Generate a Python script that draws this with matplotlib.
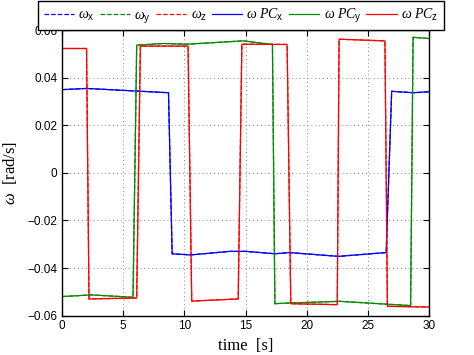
import matplotlib
matplotlib.use("Agg")
import matplotlib.pyplot as plt
import numpy as np

# Datos (tiempo en s, velocidad angular en rad/s)
t_x = [0.0, 2.0, 8.7, 9.0, 10.5, 13.7, 15.0, 17.4, 18.6, 22.6, 26.5, 26.95, 28.7, 30.0]
w_x = [0.035, 0.0355, 0.0337, -0.034, -0.0345, -0.033, -0.033, -0.034, -0.0335,
       -0.0351, -0.0335, 0.0343, 0.0337, 0.0341]

t_y = [0.0, 2.4, 5.8, 6.1, 8.3, 10.2, 14.8, 17.2, 17.4, 18.6, 22.7, 28.5, 28.7, 30.0]
w_y = [-0.052, -0.0513, -0.0523, 0.0537, 0.0544, 0.0541, 0.0555, 0.054, -0.055,
       -0.0547, -0.054, -0.0558, 0.057, 0.0565]

t_z = [0.0, 2.0, 2.2, 6.1, 6.4, 10.3, 10.6, 14.4, 14.7, 18.4, 18.7, 22.5, 22.65,
       26.4, 26.6, 30.0]
w_z = [0.0523, 0.0523, -0.053, -0.0526, 0.0533, 0.0533, -0.0539, -0.053, 0.0541,
       0.054, -0.055, -0.0554, 0.0562, 0.0555, -0.0561, -0.0564]

x_ticks = [0, 5, 10, 15, 20, 25, 30]
y_ticks = [-0.06, -0.04, -0.02, 0, 0.02, 0.04, 0.06]
y_labels = ["\u22120.06", "\u22120.04", "\u22120.02", "0", "0.02", "0.04", "0.06"]

plt.rcParams["font.family"] = "Liberation Sans"
plt.rcParams["mathtext.fontset"] = "custom"
plt.rcParams["mathtext.rm"] = "Liberation Serif"
plt.rcParams["mathtext.it"] = "Liberation Serif:italic"
plt.rcParams["mathtext.sf"] = "Liberation Sans"

fig = plt.figure(figsize=(4.74, 3.55), dpi=100)
ax = fig.add_axes([0.131, 0.111, 0.774, 0.804])

colores = {"x": (0, 0, 1), "y": (0, 0.55, 0), "z": (1, 0, 0)}
series = [("x", t_x, w_x), ("y", t_y, w_y), ("z", t_z, w_z)]

handles = []
for eje, t, w in series:
    h, = ax.plot(t, w, "--", color=colores[eje], lw=0.9,
                 label=r"$\omega_{\mathsf{%s}}$" % eje)
    handles.append(h)
for eje, t, w in series:
    h, = ax.plot(t, w, "-", color=colores[eje], lw=0.9,
                 label=r"$\omega\ PC_{\mathsf{%s}}$" % eje)
    handles.append(h)

ax.set_xlim(0, 30)
ax.set_ylim(-0.06, 0.06)
ax.set_xticks(x_ticks)
ax.set_yticks(y_ticks)
ax.set_yticklabels(y_labels)
ax.tick_params(direction="in", top=True, right=True, labelsize=8.5, length=4)
ax.grid(True, linestyle=(0, (1, 3)), color="0.55", lw=0.7)
for s in ax.spines.values():
    s.set_linewidth(1.0)

ax.set_xlabel(r"time  [s]", family="Liberation Serif", fontsize=12, labelpad=4)
ax.set_ylabel(r"$\omega$  [rad/s]", family="Liberation Serif", fontsize=12, labelpad=6)

leg = fig.legend(handles=handles, loc="center", bbox_to_anchor=(0.508, 0.956),
                 ncol=6, fontsize=10, handlelength=2.2, handletextpad=0.3,
                 columnspacing=0.35, fancybox=False, framealpha=1,
                 borderpad=0.4, borderaxespad=0)
leg.get_frame().set_edgecolor("black")
leg.get_frame().set_linewidth(1.0)

fig.savefig("out.png", dpi=100)
